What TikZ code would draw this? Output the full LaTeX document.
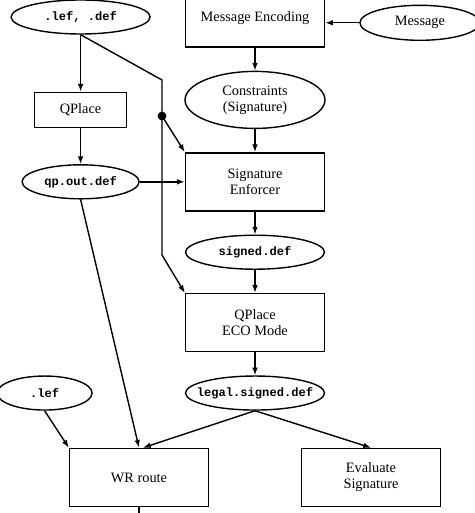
\documentclass[tikz,border=0pt]{standalone}
\usepackage{fontspec}
\setmainfont{Liberation Serif}
\setmonofont{Liberation Mono}
\usepackage{tikz}
\usetikzlibrary{arrows.meta,shapes.geometric,positioning}

% file names are boxed with no width, so the ellipse keeps its given size
\newcommand{\fname}[1]{\makebox[0pt]{#1}}

\begin{document}
\begin{tikzpicture}
[line width=1pt, >={Latex[length=5.5pt,width=4pt]},
% STYLES
% The process style is used to draw the tools and steps
process/.style={rectangle, draw, inner sep=2pt, align=center, minimum width=3.475cm, minimum height=1.45cm, font=\fontsize{10.2}{11.5}\selectfont},
% The file style is used to draw the data passed between the steps
file/.style={ellipse, draw, inner sep=0pt, minimum width=3.475cm, minimum height=0.85cm, font=\fontsize{8.6}{10}\selectfont\ttfamily\bfseries},
% The input style is used for the inputs written in plain text
input/.style={ellipse, draw, inner sep=1pt, align=center, font=\fontsize{10.2}{11.5}\selectfont}]

\useasboundingbox (0,0) rectangle (11.85,-12.825);

% Draw the main column
\node [process] (encoding) at (6.375,-0.45) {Message Encoding};
\node [input, minimum width=3cm, minimum height=0.875cm, right=0.85cm of encoding, yshift=-0.12cm] (message) {Message};
\node [input, minimum width=3.5cm, minimum height=1.425cm, below=0.575cm of encoding] (constraints) {Constraints\\(Signature)};
\node [process, below=0.575cm of constraints] (enforcer) {Signature\\Enforcer};
\node [file, below=0.575cm of enforcer] (signed) {\fname{signed.def}};
\node [process, below=0.575cm of signed] (eco) {QPlace\\ECO Mode};
\node [file, below=0.575cm of eco] (legal) {\fname{legal.signed.def}};

% Draw the left column
\node [file, minimum width=2.925cm, left=1.125cm of enforcer] (qpout) {\fname{qp.out.def}};
\node [process, minimum width=2.3cm, minimum height=0.875cm, above=0.9cm of qpout] (qplace) {QPlace};
\node [file, above=1.425cm of qplace] (lefdef) {\fname{.lef, .def}};
\node [file, minimum width=2.375cm, left=2.3cm of legal] (lef) {\fname{.lef}};

% Draw the last steps
\node [process, below=0.925cm of legal, xshift=-2.9cm] (wr) {WR route};
\node [process, below=0.925cm of legal, xshift=2.9cm] (evaluate) {Evaluate\\Signature};
\coordinate [below=0.6cm of wr] (wrout);

% bends of the line that carries .lef, .def
\coordinate (bend) at (4.05,-2.0);
\coordinate (split) at (4.05,-2.9);
\coordinate (bend2) at (4.05,-6.375);

% Draw the links between the steps
\draw[->] (lefdef.south) -- (bend) -- (bend2) -- (eco.north west);
\fill (split) circle (0.11cm);
\draw (wr) -- (wrout);
\path[->]
(lefdef) edge (qplace)
(qplace) edge (qpout)
(message.west) edge (encoding.east |- message.west)
(encoding) edge (constraints)
(constraints) edge (enforcer)
(split) edge (enforcer.north west)
(qpout) edge (enforcer)
(enforcer) edge (signed)
(signed) edge (eco)
(eco) edge (legal)
(lef.south) edge (wr.north west)
(qpout.south) edge (wr.north)
(legal.south) edge ([xshift=0.1cm]wr.north)
(legal.south) edge (evaluate.north);

\end{tikzpicture}
\end{document}
